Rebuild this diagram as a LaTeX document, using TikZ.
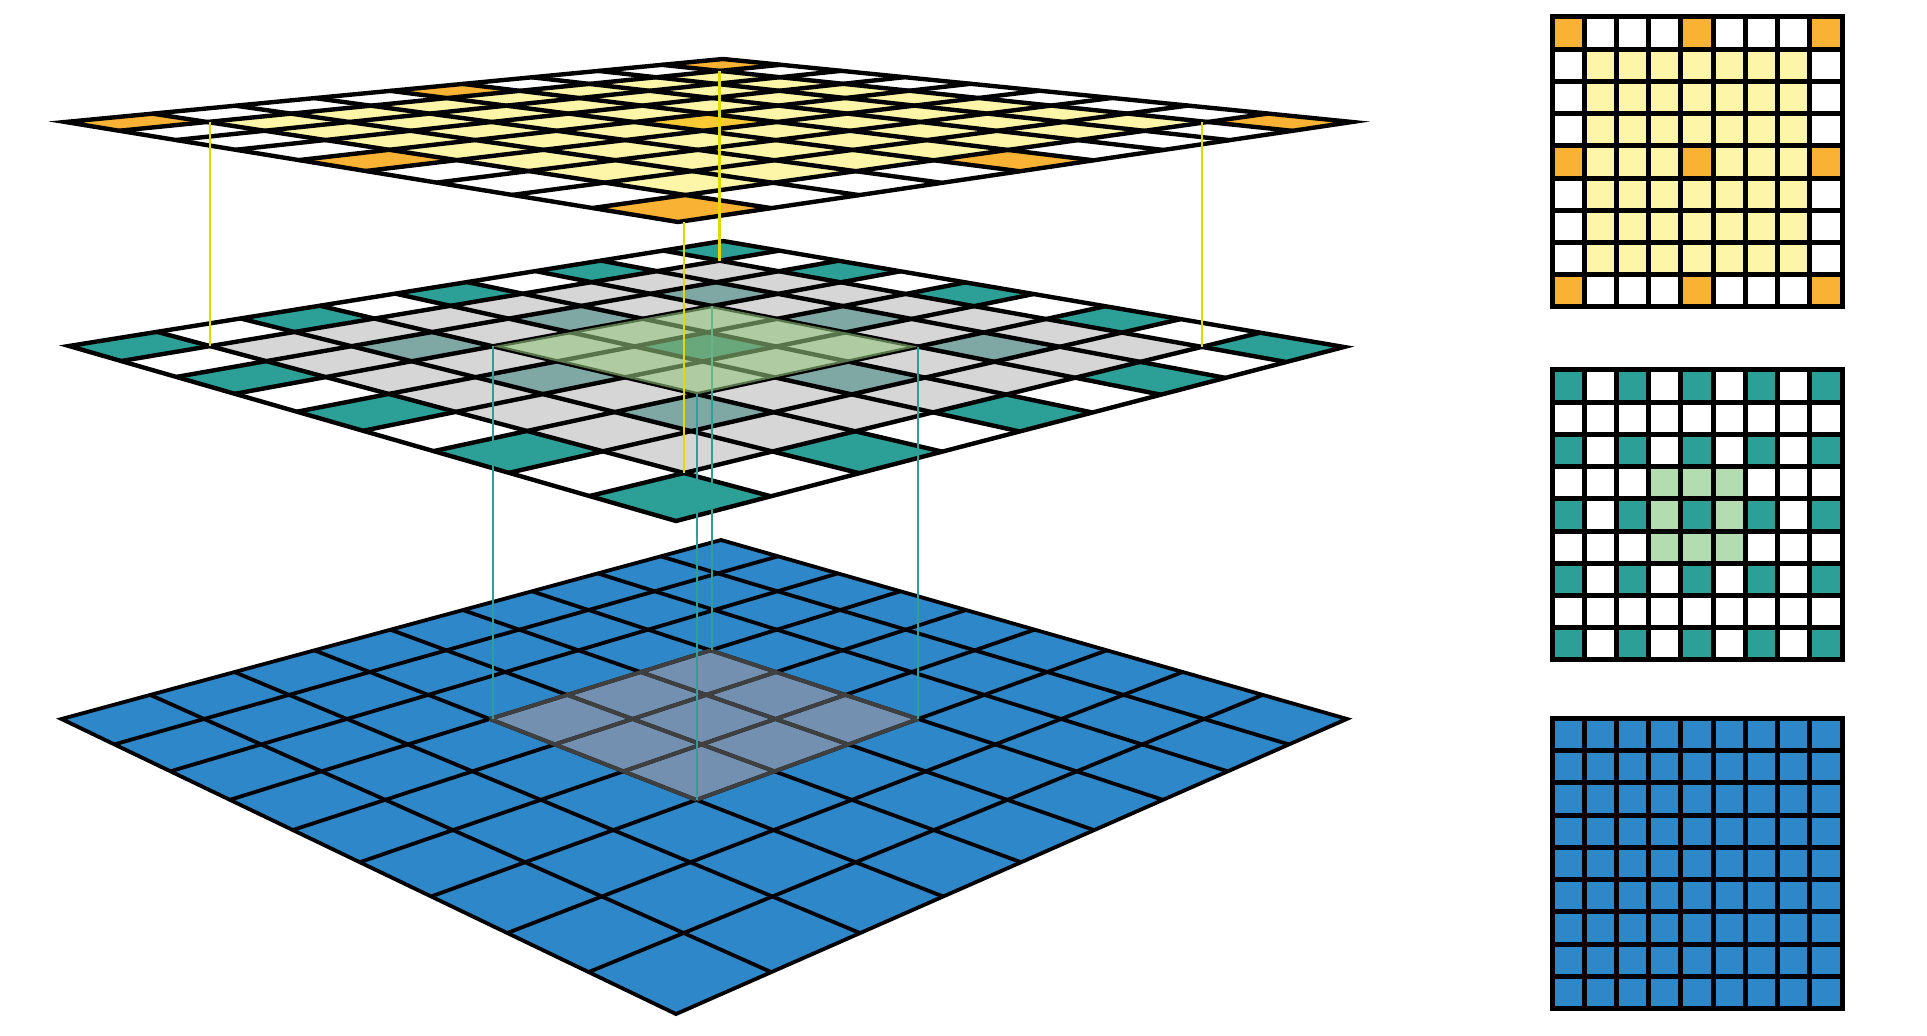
\documentclass[tikz,border=0pt]{standalone}
\usetikzlibrary{calc}
\definecolor{orng}{RGB}{249,178,51}
\definecolor{paley}{RGB}{253,245,167}
\definecolor{gold}{RGB}{250,201,52}
\definecolor{tealc}{RGB}{44,160,150}
\definecolor{lgray}{RGB}{214,214,214}
\definecolor{tgray}{RGB}{127,168,165}
\definecolor{pdark}{RGB}{45,126,122}
\definecolor{pgreen}{RGB}{148,197,125}
\definecolor{flatgreen}{RGB}{179,220,176}
\definecolor{bluec}{RGB}{46,135,200}
\definecolor{bpatch}{RGB}{115,144,176}
\definecolor{bpline}{RGB}{64,64,64}
\definecolor{yel}{RGB}{227,216,0}
\newcommand\SetHomog[8]{%
  \pgfmathsetmacro\HdxA{(#3)-(#5)}%
  \pgfmathsetmacro\HdxB{(#7)-(#5)}%
  \pgfmathsetmacro\HdxC{(#1)-(#3)+(#5)-(#7)}%
  \pgfmathsetmacro\HdyA{(#4)-(#6)}%
  \pgfmathsetmacro\HdyB{(#8)-(#6)}%
  \pgfmathsetmacro\HdyC{(#2)-(#4)+(#6)-(#8)}%
  \pgfmathsetmacro\Hden{\HdxA*\HdyB-\HdxB*\HdyA}%
  \pgfmathsetmacro\HG{(\HdxC*\HdyB-\HdxB*\HdyC)/\Hden}%
  \pgfmathsetmacro\HH{(\HdxA*\HdyC-\HdxC*\HdyA)/\Hden}%
  \pgfmathsetmacro\HA{(#3)-(#1)+\HG*(#3)}%
  \pgfmathsetmacro\HB{(#7)-(#1)+\HH*(#7)}%
  \pgfmathsetmacro\HC{#1}%
  \pgfmathsetmacro\HD{(#4)-(#2)+\HG*(#4)}%
  \pgfmathsetmacro\HE{(#8)-(#2)+\HH*(#8)}%
  \pgfmathsetmacro\HF{#2}%
}
\newcommand\MakeGrid[1]{%
  \foreach \gp in {0,...,9}{\foreach \gq in {0,...,9}{%
    \pgfmathsetmacro\Hu{\gp/9}%
    \pgfmathsetmacro\Hv{\gq/9}%
    \pgfmathsetmacro\Hw{\HG*\Hu+\HH*\Hv+1}%
    \pgfmathsetmacro\Hx{(\HA*\Hu+\HB*\Hv+\HC)/\Hw}%
    \pgfmathsetmacro\Hy{(\HD*\Hu+\HE*\Hv+\HF)/\Hw}%
    \coordinate (#1-\gp-\gq) at (\Hx,\Hy);}}%
}
\tikzset{
  gridline/.style={line width=2.2pt, draw=black},
  gridlineb/.style={line width=1.9pt, draw=black},
  patchline/.style={line width=1.9pt, draw=bpline},
  flatline/.style={line width=2.5pt, draw=black},
  yline/.style={line width=1.25pt, draw=yel},
  tline/.style={line width=1pt, draw=tealc},
}
\begin{document}
\begin{tikzpicture}[x=50pt,y=-50pt,line join=miter]
\useasboundingbox (0,0) rectangle (19.27,10.36);
% ---------------- bottom layer
\SetHomog{0.615}{7.19}{7.21}{5.40}{13.47}{7.19}{6.76}{10.14}
\MakeGrid{b}
\foreach \i in {0,...,8}{\foreach \j in {0,...,8}{%
  \pgfmathtruncatemacro\ip{\i+1}\pgfmathtruncatemacro\jp{\j+1}%
  \def\cc{bluec}%
  \ifnum\i>2 \ifnum\i<6 \ifnum\j>2 \ifnum\j<6 \def\cc{bpatch}\fi\fi\fi\fi
  \fill[\cc] (b-\i-\j) -- (b-\ip-\j) -- (b-\ip-\jp) -- (b-\i-\jp) -- cycle;}}
\foreach \k in {1,...,8}{\draw[gridlineb] (b-\k-0) -- (b-\k-9); \draw[gridlineb] (b-0-\k) -- (b-9-\k);}
\draw[gridlineb] (b-0-0) -- (b-9-0) -- (b-9-9) -- (b-0-9) -- cycle;
\foreach \k in {3,...,6}{\draw[patchline] (b-\k-3) -- (b-\k-6); \draw[patchline] (b-3-\k) -- (b-6-\k);}
% ---------------- middle layer
\SetHomog{0.69}{3.46}{7.23}{2.41}{13.44}{3.47}{6.76}{5.21}
\MakeGrid{m}
\foreach \i in {0,...,8}{\foreach \j in {0,...,8}{%
  \pgfmathtruncatemacro\ip{\i+1}\pgfmathtruncatemacro\jp{\j+1}%
  \pgfmathtruncatemacro\ev{(1-mod(\i,2))*(1-mod(\j,2))}%
  \def\cc{white}\def\inr{0}%
  \ifnum\i>0 \ifnum\i<8 \ifnum\j>0 \ifnum\j<8 \def\inr{1}\fi\fi\fi\fi
  \ifnum\inr=1 \def\cc{lgray}\ifnum\ev=1 \def\cc{tgray}\fi\else\ifnum\ev=1 \def\cc{tealc}\fi\fi
  \ifnum\i>2 \ifnum\i<6 \ifnum\j>2 \ifnum\j<6 \def\cc{lgray}\fi\fi\fi\fi
  \ifnum\i=4 \ifnum\j=4 \def\cc{pdark}\fi\fi
  \fill[\cc] (m-\i-\j) -- (m-\ip-\j) -- (m-\ip-\jp) -- (m-\i-\jp) -- cycle;}}
\foreach \k in {1,...,8}{\draw[gridline] (m-\k-0) -- (m-\k-9); \draw[gridline] (m-0-\k) -- (m-9-\k);}
\draw[gridline] (m-0-0) -- (m-9-0) -- (m-9-9) -- (m-0-9) -- cycle;
% teal connectors middle -> bottom
\draw[tline] (m-3-3) -- (m-3-3 |- b-3-3);
\draw[tline] (m-6-3) -- (m-6-3 |- b-6-3);
\draw[tline] (m-6-6) -- (m-6-6 |- b-6-6);
\draw[tline] (m-3-6) -- (m-3-6 |- b-3-6);
% green overlay
\fill[pgreen, opacity=0.594] (m-3-3) -- (m-6-3) -- (m-6-6) -- (m-3-6) -- cycle;
% ---------------- top layer
\SetHomog{0.655}{1.22}{7.23}{0.59}{13.52}{1.22}{6.78}{2.22}
\MakeGrid{t}
\foreach \i in {0,...,8}{\foreach \j in {0,...,8}{%
  \pgfmathtruncatemacro\ip{\i+1}\pgfmathtruncatemacro\jp{\j+1}%
  \pgfmathtruncatemacro\mi{mod(\i,4)}\pgfmathtruncatemacro\mj{mod(\j,4)}%
  \def\cc{white}%
  \ifnum\i>0 \ifnum\i<8 \ifnum\j>0 \ifnum\j<8 \def\cc{paley}\fi\fi\fi\fi
  \ifnum\mi=0 \ifnum\mj=0 \def\cc{orng}\fi\fi
  \ifnum\i=8 \ifnum\j=4 \def\cc{white}\fi\fi
  \ifnum\i=4 \ifnum\j=4 \def\cc{gold}\fi\fi
  \fill[\cc] (t-\i-\j) -- (t-\ip-\j) -- (t-\ip-\jp) -- (t-\i-\jp) -- cycle;}}
\foreach \k in {1,...,8}{\draw[gridline] (t-\k-0) -- (t-\k-9); \draw[gridline] (t-0-\k) -- (t-9-\k);}
\draw[gridline] (t-0-0) -- (t-9-0) -- (t-9-9) -- (t-0-9) -- cycle;
% yellow connectors middle -> top
\draw[yline] (m-1-1) -- (m-1-1 |- t-1-1);
\draw[yline] (m-8-1) -- (m-8-1 |- t-8-1);
\draw[yline] (m-8-8) -- (m-8-8 |- t-8-8);
\draw[yline] (m-1-8) -- (m-1-8 |- t-0-9);
% ---------------- flat grids
% top
\foreach \r in {0,...,8}{\foreach \c in {0,...,8}{%
  \pgfmathtruncatemacro\mr{mod(\r,4)}\pgfmathtruncatemacro\mc{mod(\c,4)}%
  \def\cc{white}%
  \ifnum\r>0 \ifnum\r<8 \ifnum\c>0 \ifnum\c<8 \def\cc{paley}\fi\fi\fi\fi
  \ifnum\mr=0 \ifnum\mc=0 \def\cc{orng}\fi\fi
  \fill[\cc] ({15.52+\c*0.32222},{0.17+\r*0.32222}) rectangle ++(0.32222,0.32222);}}
\foreach \k in {1,...,8}{\draw[flatline] ({15.52+\k*0.32222},0.17) -- ++(0,2.9); \draw[flatline] (15.52,{0.17+\k*0.32222}) -- ++(2.9,0);}
\draw[flatline] (15.52,0.17) rectangle ++(2.9,2.9);
% middle
\foreach \r in {0,...,8}{\foreach \c in {0,...,8}{%
  \pgfmathtruncatemacro\ev{(1-mod(\r,2))*(1-mod(\c,2))}%
  \def\cc{white}%
  \ifnum\r>2 \ifnum\r<6 \ifnum\c>2 \ifnum\c<6 \def\cc{flatgreen}\fi\fi\fi\fi
  \ifnum\ev=1 \def\cc{tealc}\fi
  \fill[\cc] ({15.52+\c*0.32222},{3.70+\r*0.32222}) rectangle ++(0.32222,0.32222);}}
\foreach \k in {1,...,8}{\draw[flatline] ({15.52+\k*0.32222},3.70) -- ++(0,2.9); \draw[flatline] (15.52,{3.70+\k*0.32222}) -- ++(2.9,0);}
\draw[flatline] (15.52,3.70) rectangle ++(2.9,2.9);
% bottom
\fill[bluec] (15.52,7.185) rectangle ++(2.9,2.9);
\foreach \k in {1,...,8}{\draw[flatline] ({15.52+\k*0.32222},7.185) -- ++(0,2.9); \draw[flatline] (15.52,{7.185+\k*0.32222}) -- ++(2.9,0);}
\draw[flatline] (15.52,7.185) rectangle ++(2.9,2.9);
\end{tikzpicture}
\end{document}
